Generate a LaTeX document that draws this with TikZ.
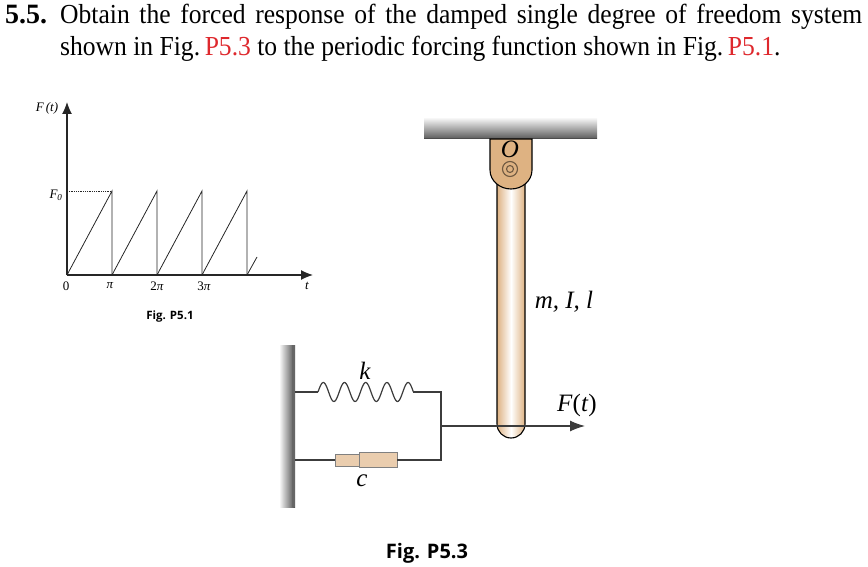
\documentclass[tikz,border=0pt]{standalone}
\usepackage{fontspec}
\setmainfont{Liberation Serif}
\newfontfamily\bodyfont[FakeStretch=0.93]{Liberation Serif}
\newfontfamily\figfont{Open Sans}
\usetikzlibrary{arrows.meta}
\definecolor{tan}{RGB}{222,178,130}
\definecolor{wire}{RGB}{60,60,60}
\definecolor{refred}{RGB}{222,40,45}
\tikzset{
  wirel/.style={draw=wire,line width=1.2pt},
  axisl/.style={draw=black!85,line width=1.2pt,-{Latex[length=12pt,width=10pt]}},
  sawl/.style={draw=black!85,line width=.8pt},
  graphlabel/.style={font=\itshape\fontsize{13}{13}\selectfont,inner sep=0pt},
  partlabel/.style={font=\itshape\fontsize{25}{25}\selectfont,inner sep=0pt},
  figlabel/.style={font=\figfont\bfseries,inner sep=0pt},
  textline/.style={font=\bodyfont\fontsize{27.5}{27.5}\selectfont,inner sep=0pt,anchor=base west},
  damperbox/.style={draw=black!50,line width=.7pt,fill=tan!65,minimum height=#1,inner sep=0pt,outer sep=0pt}
}
\begin{document}
\begin{tikzpicture}[x=1pt,y=-1pt]
\useasboundingbox (0,0) rectangle (868,567);
% problem text
\node[textline,font=\bfseries\fontsize{28}{28}\selectfont] (num) at (5,24) {5.5.};
\node[textline] (lineone) at (60,24) {\makebox[802pt][s]{Obtain the forced response of the damped single degree of freedom system}};
\node[textline] (linetwo) at (60,56) {shown in Fig.\,\textcolor{refred}{P5.3} to the periodic forcing function shown in Fig.\,\textcolor{refred}{P5.1}.};
% forcing function
\coordinate (O) at (67,275);
\coordinate (Ft) at (67,102);
\coordinate (T) at (313,275);
\draw[axisl] (O)--(Ft);
\draw[axisl] (O)--(T);
\draw[sawl,densely dotted] (67,191)--(112,191);
\foreach \i/\xa/\xb in {1/67/112,2/112/157,3/157/202,4/202/247}{
  \draw[sawl] (\xa,275)--(\xb,191)--(\xb,275);
}
\draw[sawl] (247,275)--(257,257);
\node[graphlabel] (lab1) at (47,108) {F\,(t)};
\node[graphlabel] (lab2) at (56,195) {F\textsubscript{0}};
\node[graphlabel,font=\fontsize{13}{13}\selectfont] (lab3) at (66,286) {0};
\node[graphlabel] (lab4) at (110,286) {π};
\node[graphlabel] (lab5) at (157,286) {\textup{2}π};
\node[graphlabel] (lab6) at (204,286) {\textup{3}π};
\node[graphlabel] (lab7) at (307,286) {t};
\node[figlabel,font=\figfont\bfseries\fontsize{11.5}{11.5}\selectfont] (figone) at (170,317) {Fig. P5.1};
% support and rod
\shade[top color=white,bottom color=black!65] (424,117) rectangle (597,139);
\draw[black!70,line width=1pt] (424,139)--(597,139);
\shade[left color=tan,right color=tan,middle color=white]
  (497,180)--(497,424) arc[start angle=180,end angle=0,radius=14]--(525,180)--cycle;
\draw[black,line width=1.1pt] (497,183)--(497,424) arc[start angle=180,end angle=0,radius=14]--(525,183);
\draw[black,line width=1.1pt,fill=tan] (490,139)--(490,170) .. controls (490,181) and (500,189) .. (511,189)
  .. controls (522,189) and (532,181) .. (532,170)--(532,139)--cycle;
\coordinate (P) at (510,169);
\draw[black!50!tan,line width=1.1pt] (P) circle (7.5) (P) circle (3.5);
\node[partlabel] (pivot) at (510,149) {O};
% spring and damper
\shade[left color=white,right color=black!70] (279,345) rectangle (295,507);
\fill[black!60] (292,345) rectangle (295,507);
\coordinate (W1) at (295,392);
\coordinate (W2) at (295,460);
\coordinate (J1) at (441,392);
\coordinate (J2) at (441,460);
\coordinate (J) at (441,426);
\coordinate (S1) at (318,392);
\coordinate (S2) at (413.4,392);
\node[damperbox=12pt,minimum width=24pt] (rod) at (347,460) {};
\node[damperbox=15pt,minimum width=38pt] (cyl) at (378,460) {};
\draw[wirel] (W1)--(S1);
\draw[wirel] plot[domain=0:95.4,samples=120,smooth] (318+\x,{392-9.5*sin(\x*16.98)});
\draw[wirel] (S2)--(J1)--(J2)--(cyl.east);
\draw[wirel] (W2)--(rod.west);
\draw[wirel,-{Latex[length=15pt,width=11pt]}] (J)--(585,426);
\node[partlabel] (k) at (365,371) {k};
\node[partlabel] (c) at (362,481) {c};
\node[partlabel] (mil) at (564,302) {m, I, l};
\node[partlabel] (F) at (577,405) {F\textup{(}t\textup{)}};
\node[figlabel,font=\figfont\bfseries\fontsize{20}{20}\selectfont] (figthree) at (427,553) {Fig. P5.3};
\end{tikzpicture}
\end{document}
